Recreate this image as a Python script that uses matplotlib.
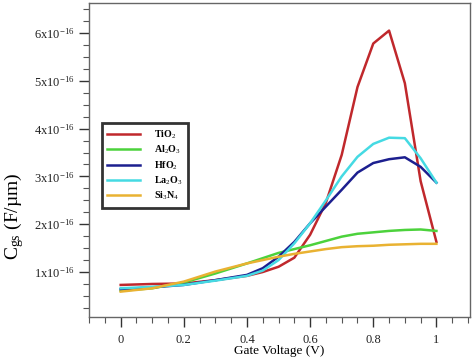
import numpy as np
import matplotlib.pyplot as plt
from matplotlib.ticker import MultipleLocator, FixedLocator, FuncFormatter

plt.rcParams['font.family'] = ['Liberation Serif', 'DejaVu Serif']
plt.rcParams['mathtext.fontset'] = 'custom'
plt.rcParams['mathtext.rm'] = 'Liberation Serif'
plt.rcParams['mathtext.it'] = 'Liberation Serif:italic'
plt.rcParams['mathtext.bf'] = 'Liberation Serif:bold'

# gate voltage (V)
vg = [0.0, 0.1, 0.2, 0.3, 0.4, 0.45, 0.5, 0.55, 0.6, 0.65, 0.7, 0.75, 0.8, 0.85, 0.9, 0.95, 1.0]
# Cgs in units of 1e-16 F/um
tio2 = [0.73, 0.75, 0.76, 0.83, 0.92, 1.0, 1.11, 1.3, 1.78, 2.45, 3.45, 4.87, 5.78, 6.05, 4.95, 2.9, 1.63]
al2o3 = [0.61, 0.66, 0.78, 0.97, 1.18, 1.29, 1.4, 1.48, 1.56, 1.65, 1.74, 1.8, 1.83, 1.86, 1.88, 1.89, 1.86]
hfo2 = [0.64, 0.68, 0.73, 0.83, 0.94, 1.08, 1.32, 1.63, 2.02, 2.37, 2.72, 3.08, 3.28, 3.36, 3.4, 3.2, 2.87]
la2o3 = [0.66, 0.69, 0.73, 0.82, 0.92, 1.03, 1.25, 1.6, 2.02, 2.5, 3.0, 3.41, 3.68, 3.81, 3.8, 3.38, 2.87]
si3n4 = [0.59, 0.66, 0.8, 1.01, 1.18, 1.25, 1.32, 1.38, 1.43, 1.48, 1.52, 1.54, 1.55, 1.57, 1.58, 1.59, 1.59]
ytick_vals = [1, 2, 3, 4, 5, 6]

series = [
    ("TiO$_2$", tio2, "#c0282c"),
    ("Al$_2$O$_3$", al2o3, "#4cd23c"),
    ("HfO$_2$", hfo2, "#1c1f8f"),
    ("La$_2$O$_3$", la2o3, "#45dae3"),
    ("Si$_3$N$_4$", si3n4, "#e9b232"),
]

fig = plt.figure(figsize=(4.74, 3.61), dpi=100)
ax = fig.add_axes([0.188, 0.122, 0.804, 0.870])

for name, vals, col in series:
    ax.plot(vg, np.array(vals) * 1e-16, color=col, lw=1.8, label=name)

ax.set_xlim(-0.1, 1.107)
ax.set_ylim(0.06e-16, 6.63e-16)
ax.xaxis.set_major_locator(MultipleLocator(0.2))
ax.xaxis.set_minor_locator(MultipleLocator(0.05))
ax.yaxis.set_major_locator(FixedLocator([v * 1e-16 for v in ytick_vals]))
ax.yaxis.set_minor_locator(MultipleLocator(0.25e-16))
ax.xaxis.set_major_formatter(FuncFormatter(lambda v, p: "%g" % round(v, 2)))
ax.yaxis.set_major_formatter(FuncFormatter(lambda v, p: "%dx10$^{-16}$" % round(v * 1e16)))
ax.tick_params(which='major', direction='out', length=7, width=1, labelsize=9, colors='#333333')
ax.tick_params(which='minor', direction='out', length=4, width=0.8, colors='#555555')
ax.tick_params(labelcolor='#222222')
ax.tick_params(axis='x', pad=5)
for s in ax.spines.values():
    s.set_color('#666666')
    s.set_linewidth(1)

ax.set_xlabel("Gate Voltage (V)", fontsize=9.5)
ax.xaxis.set_label_coords(0.5, -0.088)
ax.set_ylabel("C$_{\\mathrm{gs}}$ (F/\u00b5m)", fontsize=14)
ax.yaxis.set_label_coords(-0.165, 0.32)

leg = ax.legend(loc='upper left', bbox_to_anchor=(0.033, 0.617), fancybox=False,
                edgecolor='black', prop={'weight': 'bold', 'size': 7.2},
                handlelength=3.3, handletextpad=1.4, borderpad=0.55, labelspacing=0.28,
                borderaxespad=0)
leg.get_frame().set_linewidth(2)

fig.savefig("out.png", dpi=100)
